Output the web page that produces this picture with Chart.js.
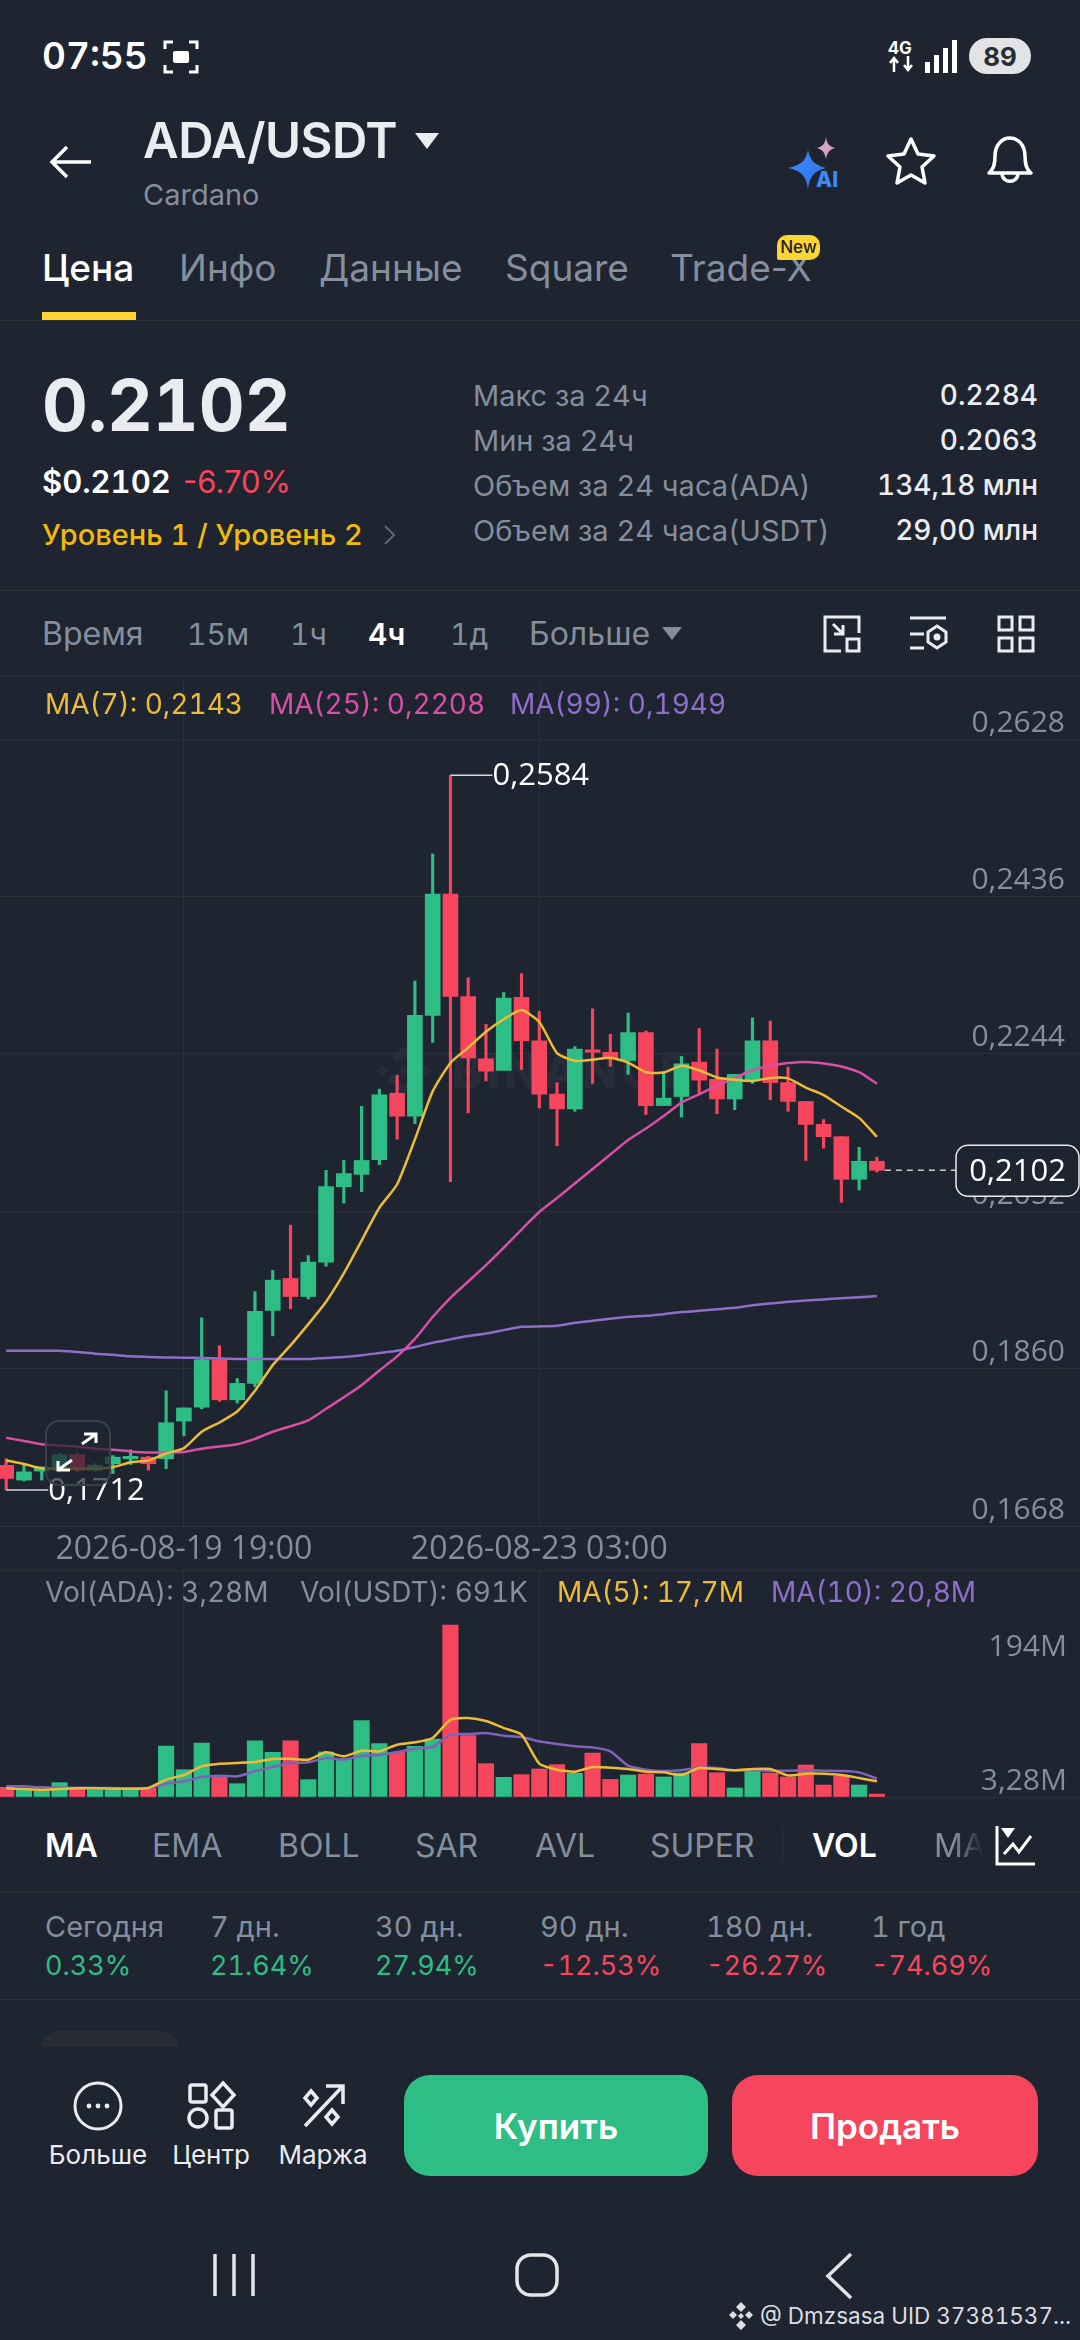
<!DOCTYPE html>
<html lang="ru">
<head>
<meta charset="utf-8">
<title>ADA/USDT</title>
<script src="https://cdn.jsdelivr.net/npm/chart.js@4/dist/chart.umd.min.js"></script>
<style>
html,body{margin:0;padding:0;background:#1e2430}
body{position:relative;width:1080px;height:2340px;overflow:hidden;font-family:Inter,"Noto Sans",sans-serif;color:#848e9c;font-variant-numeric:tabular-nums}
.t{position:absolute;white-space:nowrap;transform:translateY(-50%);line-height:1.2}
.r{position:absolute;height:1px;left:0;width:1080px;background:#2b3139}
canvas{position:absolute;left:0}
svg{position:absolute;overflow:visible}
.w{color:#eaecef}
.tab{font-size:37px;top:268px;font-variant-numeric:normal;font-feature-settings:"tnum" 0}
.st{font-size:29px;left:473px}
.sv{font-size:28px;right:42px;color:#eaecef;font-weight:500}
.iv{font-size:32px;top:634px}
.ivn{font-size:30px}
.ind{font-size:32px;top:1846px}
.pl{font-size:29px;top:1927px}
.pv{font-size:27px;top:1966px}
.up{color:#2ebd85}.dn{color:#f6465d}
.lb{font-size:28px;top:705px}
.vl{font-size:28px;top:1593px}
.btn{position:absolute;top:2075px;height:101px;border-radius:26px;color:#fff;font-size:35px;font-weight:600;display:flex;align-items:center;justify-content:center}
.act{font-size:26px;top:2155px;color:#eaecef;transform:translate(-50%,-50%)}
</style>
</head>
<body>

<!-- status bar -->
<div class="t" style="left:42px;top:56px;font-size:37px;font-weight:600;color:#fff">07:55</div>
<svg style="left:163px;top:40px" width="36" height="34" fill="none" stroke="#fff" stroke-width="3">
  <path d="M2 9V2h8M26 2h8v7M34 25v7h-8M10 32H2v-7"/><rect x="10" y="11" width="16" height="12" rx="2" fill="#fff" stroke="none"/>
</svg>
<div class="t" style="left:888px;top:48px;font-size:17px;font-weight:700;color:#fff">4G</div>
<svg style="left:888px;top:56px" width="30" height="16" fill="none" stroke="#fff" stroke-width="2.5"><path d="M6 16V3M2 7l4-5 4 5M20 0v13M16 9l4 5 4-5"/></svg>
<svg style="left:925px;top:40px" width="32" height="33" fill="#fff"><rect x="0" y="22" width="5" height="11"/><rect x="9" y="15" width="5" height="18"/><rect x="18" y="8" width="5" height="25"/><rect x="27" y="0" width="5" height="33"/></svg>
<div style="position:absolute;left:969px;top:38px;width:62px;height:36px;border-radius:18px;background:#e2e3e5;color:#2a2d33;font-size:26px;font-weight:700;display:flex;align-items:center;justify-content:center">89</div>

<!-- header -->
<svg style="left:49px;top:145px" width="44" height="36" fill="none" stroke="#fff" stroke-width="3.5"><path d="M42 17H3M18 2L3 17l15 15"/></svg>
<div class="t" style="left:143px;top:141px;font-size:49px;font-weight:600;color:#eaecef;letter-spacing:-.5px">ADA/USDT</div>
<svg style="left:415px;top:133px" width="24" height="16"><path d="M0 0h24L12 16z" fill="#eaecef"/></svg>
<div class="t" style="left:143px;top:195px;font-size:29px">Cardano</div>
<svg style="left:788px;top:137px" width="56" height="52">
  <defs><linearGradient id="g" x1="0" y1="0" x2="1" y2="1"><stop offset="0" stop-color="#3f8cff"/><stop offset="1" stop-color="#2f6fe8"/></linearGradient></defs>
  <path d="M20 13c2 10 6 15 18 18-12 3-16 8-18 21-2-13-6-18-20-21 14-3 18-8 20-18z" fill="url(#g)"/>
  <path d="M38 0c1 7 3 9 9 11-6 2-8 5-9 11-1-6-3-9-9-11 6-2 8-4 9-11z" fill="#d9a3c8"/>
  <text x="28" y="50" font-size="21" font-weight="800" fill="#3d8bf5" font-family="Inter">AI</text>
</svg>
<svg style="left:885px;top:136px" width="52" height="50" fill="none" stroke="#fff" stroke-width="3.5" stroke-linejoin="round"><path d="M26 3l7 15 16 2-12 11 3 16-14-8-14 8 3-16L3 20l16-2z"/></svg>
<svg style="left:986px;top:135px" width="48" height="52" fill="none" stroke="#fff" stroke-width="3.5" stroke-linejoin="round"><path d="M3 38c5-4 6-9 6-17 0-11 7-18 15-18s15 7 15 18c0 8 1 13 6 17zM16 38c0 11 16 11 16 0"/></svg>

<div class="t tab w" style="left:42px;font-weight:500;color:#fff">Цена</div>
<div class="t tab" style="left:179px">Инфо</div>
<div class="t tab" style="left:319px">Данные</div>
<div class="t tab" style="left:505px">Square</div>
<div class="t tab" style="left:670px">Trade-X</div>
<div style="position:absolute;left:777px;top:235px;width:43px;height:25px;border-radius:10px 10px 10px 2px;background:#fcd535;color:#1e2329;font-size:17px;font-weight:500;text-align:center;line-height:25px">New</div>
<div style="position:absolute;left:42px;top:312px;width:94px;height:8px;background:#fcd535"></div>
<div class="r" style="top:320px"></div>

<!-- ticker -->
<div class="t" style="left:42px;top:406px;font-size:71px;font-weight:700;color:#eaecef">0.2102</div>
<div class="t" style="left:42px;top:482px;font-size:31px;font-weight:600;color:#fff">$0.2102</div>
<div class="t dn" style="left:183px;top:482px;font-size:31px;font-feature-settings:'tnum' 0;font-variant-numeric:normal">-6.70%</div>
<div class="t" style="left:42px;top:535px;font-size:29px;font-weight:500;color:#f0b90b">Уровень 1 / Уровень 2</div>
<svg style="left:384px;top:525px" width="11" height="20" fill="none" stroke="#5e6673" stroke-width="2"><path d="M1 1l9 9-9 9"/></svg>

<div class="t st" style="top:396px">Макс за 24ч</div><div class="t sv" style="top:396px">0.2284</div>
<div class="t st" style="top:441px">Мин за 24ч</div><div class="t sv" style="top:441px">0.2063</div>
<div class="t st" style="top:486px">Объем за 24 часа(ADA)</div><div class="t sv" style="top:486px">134,18 млн</div>
<div class="t st" style="top:531px">Объем за 24 часа(USDT)</div><div class="t sv" style="top:531px">29,00 млн</div>
<div class="r" style="top:590px"></div>

<!-- intervals -->
<div class="t iv" style="left:42px">Время</div>
<div class="t iv ivn" style="left:187px">15м</div>
<div class="t iv ivn" style="left:290px">1ч</div>
<div class="t iv ivn" style="left:368px;color:#fff;font-weight:600">4ч</div>
<div class="t iv ivn" style="left:450px">1д</div>
<div class="t iv" style="left:529px">Больше</div>
<svg style="left:662px;top:627px" width="20" height="13"><path d="M0 0h20L10 13z" fill="#848e9c"/></svg>
<svg style="left:823px;top:615px" width="38" height="38" fill="none" stroke="#eaecef" stroke-width="3"><path d="M18 36H2V2h34v16M10 9l10 10M20 10v9h-9"/><rect x="24" y="24" width="12" height="12"/></svg>
<svg style="left:908px;top:615px" width="40" height="38" fill="none" stroke="#eaecef" stroke-width="3"><path d="M2 3h36M2 19h14M2 33h14"/><path d="M29 11l9 6v10l-9 6-9-6V17z"/><circle cx="29" cy="22" r="2" fill="#eaecef"/></svg>
<svg style="left:997px;top:615px" width="38" height="38" fill="none" stroke="#eaecef" stroke-width="3"><rect x="2" y="2" width="13" height="13"/><rect x="23" y="2" width="13" height="13"/><rect x="2" y="23" width="13" height="13"/><rect x="23" y="23" width="13" height="13"/></svg>
<div class="r" style="top:675px"></div>

<!-- chart area -->
<svg style="left:374px;top:1046px" width="60" height="50" fill="#272d38"><path d="M30 0l12 11-5 5-7-6-7 6-5-5zM8 19l6 6-6 6-6-6zM52 19l6 6-6 6-6-6zM30 19l6 6-6 6-6-6zM13 33l5-5 12 11 12-11 5 5-17 16z"/></svg>
<div class="t" style="left:452px;top:1072px;font-size:46px;font-weight:800;letter-spacing:4px;color:#272d38">BINANCE</div>
<canvas id="priceChart" width="1080" height="892" style="top:678px"></canvas>
<div class="t lb" style="left:45px;color:#edbb35">MA(7): 0,2143</div>
<div class="t lb" style="left:269px;color:#d94fa8">MA(25): 0,2208</div>
<div class="t lb" style="left:510px;color:#8f6ec9">MA(99): 0,1949</div>

<div style="position:absolute;left:45px;top:1420px;width:62px;height:62px;border:2px solid #3a404a;border-radius:14px;background:rgba(30,36,48,.72)"></div>
<svg style="left:56px;top:1432px" width="42" height="40" fill="none" stroke="#fff" stroke-width="3"><path d="M26 12L40 2M28 2h12v9M16 28L2 38M14 38H2v-9"/></svg>

<div class="r" style="top:1570px"></div>
<canvas id="volChart" width="1080" height="229" style="top:1571px"></canvas>
<div class="t vl" style="left:45px">Vol(ADA): 3,28M</div>
<div class="t vl" style="left:300px">Vol(USDT): 691K</div>
<div class="t vl" style="left:557px;color:#edbb35">MA(5): 17,7M</div>
<div class="t vl" style="left:771px;color:#8f6ec9">MA(10): 20,8M</div>

<!-- indicators -->
<div class="t ind" style="left:45px;color:#fff;font-weight:600">MA</div>
<div class="t ind" style="left:152px">EMA</div>
<div class="t ind" style="left:278px">BOLL</div>
<div class="t ind" style="left:415px">SAR</div>
<div class="t ind" style="left:535px">AVL</div>
<div class="t ind" style="left:650px">SUPER</div>
<div style="position:absolute;left:782px;top:1828px;width:1px;height:34px;background:#2b3139"></div>
<div class="t ind" style="left:812px;color:#fff;font-weight:600">VOL</div>
<div class="t ind" style="left:934px;width:50px;overflow:hidden;-webkit-mask-image:linear-gradient(90deg,#000 40%,transparent)">MACD</div>
<svg style="left:995px;top:1826px" width="40" height="40" fill="none" stroke="#fff" stroke-width="3"><path d="M2 0v38h38M9 28l9-10 6 8 12-16"/><path d="M6 2h14l-7 10z" fill="#fff" stroke="none"/></svg>
<div class="r" style="top:1892px"></div>

<div class="t pl" style="left:45px">Сегодня</div><div class="t pv up" style="left:45px">0.33%</div>
<div class="t pl" style="left:210px">7 дн.</div><div class="t pv up" style="left:210px">21.64%</div>
<div class="t pl" style="left:375px">30 дн.</div><div class="t pv up" style="left:375px">27.94%</div>
<div class="t pl" style="left:540px">90 дн.</div><div class="t pv dn" style="left:540px">-12.53%</div>
<div class="t pl" style="left:706px">180 дн.</div><div class="t pv dn" style="left:706px">-26.27%</div>
<div class="t pl" style="left:871px">1 год</div><div class="t pv dn" style="left:871px">-74.69%</div>
<div class="r" style="top:1999px"></div>
<div style="position:absolute;left:42px;top:2031px;width:136px;height:16px;background:#272c35;border-radius:16px 16px 0 0"></div>

<!-- actions -->
<svg style="left:73px;top:2081px" width="50" height="50" fill="none" stroke="#eaecef" stroke-width="3"><circle cx="25" cy="25" r="23"/><circle cx="16" cy="25" r="2.4" fill="#eaecef" stroke="none"/><circle cx="25" cy="25" r="2.4" fill="#eaecef" stroke="none"/><circle cx="34" cy="25" r="2.4" fill="#eaecef" stroke="none"/></svg>
<svg style="left:188px;top:2082px" width="48" height="48" fill="none" stroke="#eaecef" stroke-width="3.5"><rect x="2" y="3" width="16" height="17" rx="2"/><path d="M35 1l11 12-11 12-11-12z"/><circle cx="10" cy="36" r="9"/><rect x="28" y="28" width="16" height="18" rx="2"/></svg>
<svg style="left:302px;top:2084px" width="44" height="44" fill="none" stroke="#eaecef" stroke-width="3.5"><path d="M3 42L41 2M24 2h17v18"/><path d="M9 7l6 7-6 7-6-7zM30 26l6 7-6 7-6-7z"/></svg>
<div class="t act" style="left:98px">Больше</div>
<div class="t act" style="left:211px">Центр</div>
<div class="t act" style="left:323px">Маржа</div>
<div class="btn" style="left:404px;width:304px;background:#2ebd85">Купить</div>
<div class="btn" style="left:732px;width:306px;background:#f6465d">Продать</div>

<!-- nav bar -->
<svg style="left:212px;top:2254px" width="44" height="42" fill="none" stroke="#e4e5e7" stroke-width="3.5"><path d="M3 0v42M22 0v42M41 0v42"/></svg>
<svg style="left:515px;top:2253px" width="44" height="44" fill="none" stroke="#e4e5e7" stroke-width="3.5"><rect x="2" y="2" width="40" height="40" rx="14"/></svg>
<svg style="left:825px;top:2253px" width="28" height="46" fill="none" stroke="#e4e5e7" stroke-width="3.5"><path d="M26 1L3 23l23 22"/></svg>
<svg style="left:728px;top:2302px" width="26" height="28" fill="#dcdde0"><path d="M13 0l5 5-5 5-5-5zM5 9l4 4-4 4-4-4zM21 9l4 4-4 4-4-4zM13 18l5 5-5 5-5-5zM13 11l3 3-3 3-3-3z"/></svg>
<div class="t" style="left:760px;top:2315px;font-size:22.5px;color:#dcdde0">@ Dmzsasa UID 37381537...</div>

<script>
// candle times, 4h each, from left to right
const timeLabels = [
  "2026-08-18 03:00","2026-08-18 07:00","2026-08-18 11:00","2026-08-18 15:00","2026-08-18 19:00","2026-08-18 23:00",
  "2026-08-19 03:00","2026-08-19 07:00","2026-08-19 11:00","2026-08-19 15:00","2026-08-19 19:00","2026-08-19 23:00",
  "2026-08-20 03:00","2026-08-20 07:00","2026-08-20 11:00","2026-08-20 15:00","2026-08-20 19:00","2026-08-20 23:00",
  "2026-08-21 03:00","2026-08-21 07:00","2026-08-21 11:00","2026-08-21 15:00","2026-08-21 19:00","2026-08-21 23:00",
  "2026-08-22 03:00","2026-08-22 07:00","2026-08-22 11:00","2026-08-22 15:00","2026-08-22 19:00","2026-08-22 23:00",
  "2026-08-23 03:00","2026-08-23 07:00","2026-08-23 11:00","2026-08-23 15:00","2026-08-23 19:00","2026-08-23 23:00",
  "2026-08-24 03:00","2026-08-24 07:00","2026-08-24 11:00","2026-08-24 15:00","2026-08-24 19:00","2026-08-24 23:00",
  "2026-08-25 03:00","2026-08-25 07:00","2026-08-25 11:00","2026-08-25 15:00","2026-08-25 19:00","2026-08-25 23:00",
  "2026-08-26 03:00","2026-08-26 07:00"
];
const opens = [.1742,.1724,.1735,.1736,.1755,.1736,.1744,.1750,.1752,.1750,.1796,.1813,.1871,.1822,.1842,.1931,.1970,.1948,.1990,.2082,.2097,.2115,.2196,.2168,.2291,.2439,.2314,.2238,.2224,.2313,.2260,.2195,.2177,.2249,.2246,.2236,.2270,.2181,.2192,.2234,.2213,.2189,.2212,.2260,.2209,.2186,.2158,.2143,.2091,.2113];
const closes = [.1726,.1734,.1740,.1755,.1736,.1742,.1752,.1753,.1744,.1794,.1812,.1871,.1822,.1842,.1930,.1968,.1948,.1990,.2082,.2098,.2114,.2194,.2168,.2291,.2439,.2314,.2239,.2223,.2312,.2260,.2195,.2177,.2250,.2246,.2238,.2270,.2181,.2190,.2232,.2212,.2189,.2219,.2260,.2209,.2186,.2158,.2143,.2091,.2113,.2102];
const highs = [.1750,.1744,.1740,.1757,.1757,.1744,.1754,.1761,.1753,.1833,.1812,.1922,.1888,.1848,.1954,.1980,.2035,.1998,.2102,.2114,.2180,.2201,.2218,.2333,.2488,.2584,.2337,.2280,.2319,.2342,.2296,.2209,.2253,.2299,.2268,.2294,.2272,.2222,.2241,.2275,.2250,.2219,.2288,.2284,.2228,.2186,.2164,.2143,.2130,.2118];
const lows = [.1712,.1723,.1724,.1735,.1734,.1735,.1732,.1743,.1736,.1738,.1778,.1811,.1820,.1818,.1838,.1900,.1933,.1945,.1985,.2062,.2076,.2109,.2140,.2159,.2258,.2088,.2172,.2211,.2224,.2225,.2178,.2132,.2174,.2208,.2229,.2219,.2170,.2181,.2167,.2196,.2171,.2176,.2208,.2188,.2174,.2114,.2129,.2063,.2078,.2100];

const ma7 = [.1748,.17437,.17383,.17383,.17383,.17383,.17397,.17457,.1748,.17565,.1763,.1783,.17943,.18077,.1833,.18643,.18883,.19143,.19417,.19763,.20163,.20563,.2085,.21397,.21983,.2233,.22517,.2271,.22863,.22975,.2283,.22449,.22356,.2237,.22393,.22333,.22217,.22212,.22296,.2224,.22152,.22124,.2211,.22147,.22142,.2203,.21938,.21798,.21659,.21427];
const ma25 = [.17757,.17717,.17677,.17663,.1765,.17623,.1761,.1759,.17577,.17577,.17583,.17623,.1765,.17677,.17743,.1783,.17897,.1797,.1811,.1825,.18397,.18577,.1875,.18963,.1923,.19463,.19663,.19863,.20077,.20297,.20511,.20683,.20859,.21036,.21213,.21389,.21529,.21682,.21845,.21947,.22054,.22147,.2224,.22296,.22328,.22342,.22324,.22287,.22217,.22077];
const ma99 = [.18817,.18817,.18817,.18817,.18803,.18783,.1877,.1875,.18743,.18737,.18733,.1873,.18723,.18717,.18717,.18717,.18717,.18717,.1873,.18743,.18763,.1879,.18817,.18863,.18917,.18957,.18997,.1903,.1907,.1911,.19115,.19123,.19159,.19184,.19208,.19232,.19244,.19265,.1929,.19305,.19326,.19342,.19374,.19395,.19415,.19431,.19444,.1946,.19472,.19485];

const volumes = [10.9,8.3,6.8,16.2,9.0,8.3,7.5,9.0,9.8,57.5,30.8,60.9,23.3,15.0,63.5,50.4,63.5,19.6,50.8,43.2,86.1,60.2,50.4,57.2,65.4,194,69.2,37.6,22.2,25.2,31.6,36.5,26.7,49.6,19.9,24.8,25.9,22.6,27.1,60.2,27.4,10.2,29.0,27.1,22.6,36.1,13.5,23.3,13.5,3.28];
const volMa5 = [9.8,9.0,8.3,9.0,9.8,9.8,9.4,9.4,10.2,19.6,24.8,34.6,37.6,38.4,39.5,42.9,43.2,42.1,50.4,45.9,52.3,51.5,59.0,61.7,66.6,87.2,89.1,85.7,77.8,70.3,37.6,30.8,28.6,33.8,33.1,31.6,28.6,27.8,24.8,32.7,31.6,30.1,31.6,31.6,24.4,26.3,26.3,24.8,21.4,17.7];
const volMa10 = [12.0,12.0,10.9,10.5,10.5,10.2,10.2,9.8,9.8,15.0,17.7,22.6,24.1,23.3,29.0,33.8,38.4,39.1,44.0,42.1,46.6,47.4,50.8,54.5,56.4,70.3,71.1,72.2,69.2,67.7,62.8,59.8,57.2,56.0,51.5,35.3,30.8,29.3,30.1,33.1,32.7,30.1,30.1,29.7,29.7,30.1,29.7,29.3,27.8,20.8];

const priceTicks = [.1668,.1860,.2052,.2244,.2436,.2628];
const timeTicks = [10,30];
const volLabels = [[194,"194M"],[3.28,"3,28M"]];

const GREEN = "#2ebd85", RED = "#f6465d", GRID = "#2b3139", AXIS = "#848e9c";
const FONT = "Open Sans";
const xRange = {min:-0.349, max:60.43};

const comma = v => v.toFixed(4).replace(".", ",");
const isUp = i => closes[i] >= opens[i];
const barColors = opens.map((_, i) => isUp(i) ? GREEN : RED);
const pts = arr => arr.map((y, x) => ({x, y}));
const maLine = (data, color, width) => ({type:"line", data:pts(data), borderColor:color, borderWidth:width, pointRadius:0, tension:.2, order:1});

const xScale = extra => Object.assign({
  type:"linear", min:xRange.min, max:xRange.max, offset:false,
  afterBuildTicks: s => { s.ticks = timeTicks.map(value => ({value})); },
  grid:{color:GRID, drawTicks:false, offset:false}, border:{display:false}
}, extra);

// max / min callouts and the last price tag
const priceMarks = {
  id:"priceMarks",
  afterDatasetsDraw(chart){
    const {ctx, scales:{x, y}} = chart;
    ctx.save();
    ctx.font = "31px " + FONT;
    ctx.textBaseline = "middle";

    const hi = highs.indexOf(Math.max(...highs));
    const lo = lows.indexOf(Math.min(...lows));
    ctx.strokeStyle = "#d5d7db"; ctx.lineWidth = 1.5;
    ctx.fillStyle = "#fff";
    [[hi, highs[hi]], [lo, lows[lo]]].forEach(([i, v]) => {
      const px = x.getPixelForValue(i), py = y.getPixelForValue(v);
      ctx.beginPath(); ctx.moveTo(px, py); ctx.lineTo(px + 42, py); ctx.stroke();
      ctx.textAlign = "left";
      ctx.fillText(comma(v), px + 42, py + 1);
    });

    const last = closes.length - 1;
    const ly = y.getPixelForValue(closes[last]);
    ctx.setLineDash([6, 5]);
    ctx.strokeStyle = "#c9ccd1";
    ctx.beginPath(); ctx.moveTo(x.getPixelForValue(last) + 8, ly); ctx.lineTo(956, ly); ctx.stroke();
    ctx.setLineDash([]);
    ctx.beginPath(); ctx.roundRect(956, ly - 25, 123, 51, 12);
    ctx.fillStyle = "#1e2430"; ctx.fill();
    ctx.strokeStyle = "#eaecef"; ctx.stroke();
    ctx.fillStyle = "#fff"; ctx.textAlign = "right";
    ctx.fillText(comma(closes[last]), 1066, ly + 2);
    ctx.restore();
  }
};

new Chart(document.getElementById("priceChart"), {
  type:"bar",
  data:{datasets:[
    maLine(ma7, "#edbb35", 2.5),
    maLine(ma25, "#d94fa8", 2.5),
    maLine(ma99, "#8f6ec9", 2.5),
    {data:opens.map((o, x) => ({x, y:[o, closes[x]]})), backgroundColor:barColors, barThickness:15, grouped:false, order:2},
    {data:lows.map((l, x) => ({x, y:[l, highs[x]]})), backgroundColor:barColors, barThickness:2.5, grouped:false, order:3}
  ]},
  options:{
    responsive:false, animation:false, events:[],
    layout:{padding:0, autoPadding:false},
    plugins:{legend:{display:false}, tooltip:{enabled:false}},
    scales:{
      x:xScale({
        afterFit: s => { s.height = 44; },
        ticks:{color:AXIS, font:{family:FONT, size:32}, padding:5, maxRotation:0, autoSkip:false, callback:v => timeLabels[v]}
      }),
      y:{
        type:"linear", position:"right", min:.1668, max:.2699,
        afterBuildTicks: s => { s.ticks = priceTicks.map(value => ({value})); },
        afterFit: s => { s.width = 0; },
        grid:{color:GRID, drawTicks:false}, border:{display:false},
        ticks:{mirror:true, padding:-15, labelOffset:-16, color:AXIS, font:{family:FONT, size:30}, callback:comma}
      }
    }
  },
  plugins:[priceMarks]
});

// volume pane labels sit inside the pane, one below its value and one above
const volMarks = {
  id:"volMarks",
  afterDraw(chart){
    const {ctx, scales:{y}} = chart;
    ctx.save();
    ctx.font = "30px " + FONT;
    ctx.fillStyle = AXIS; ctx.textAlign = "right"; ctx.textBaseline = "middle";
    volLabels.forEach(([v, text]) => {
      const off = v > 100 ? 22 : -13;
      ctx.fillText(text, 1067, y.getPixelForValue(v) + off);
    });
    ctx.restore();
  }
};

new Chart(document.getElementById("volChart"), {
  type:"bar",
  data:{datasets:[
    maLine(volMa5, "#edbb35", 2.5),
    maLine(volMa10, "#7f63ba", 2.5),
    {data:pts(volumes), backgroundColor:barColors, barThickness:15.5, grouped:false, order:2}
  ]},
  options:{
    responsive:false, animation:false, events:[],
    layout:{padding:{bottom:3}, autoPadding:false},
    plugins:{legend:{display:false}, tooltip:{enabled:false}},
    scales:{
      x:xScale({ afterFit: s => { s.height = 0; }, ticks:{display:false} }),
      y:{
        min:0, max:255, position:"right",
        afterBuildTicks: s => { s.ticks = [{value:0}]; },
        afterFit: s => { s.width = 0; },
        grid:{color:GRID, drawTicks:false}, border:{display:false},
        ticks:{display:false}
      }
    }
  },
  plugins:[volMarks]
});
</script>
</body>
</html>
